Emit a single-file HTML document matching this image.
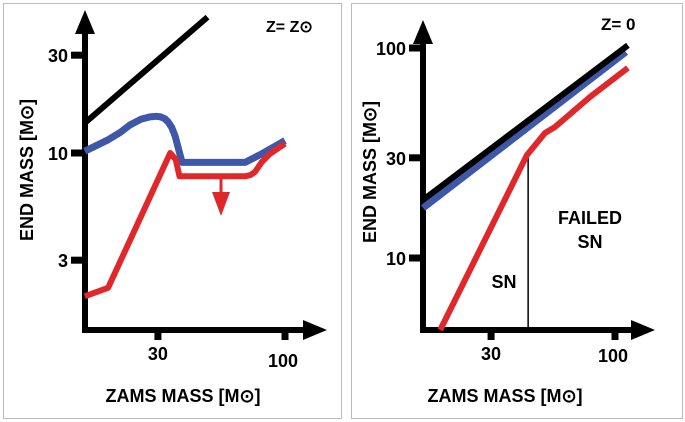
<!DOCTYPE html>
<html><head><meta charset="utf-8"><style>
html,body{margin:0;padding:0;background:#fff}
svg{display:block;font-family:"Liberation Sans",sans-serif;font-weight:bold}
</style></head><body>
<svg id="c" width="685" height="422" viewBox="0 0 685 422">
<rect x="3.5" y="3.5" width="338" height="415" fill="#fff" stroke="#bbb"/>
<rect x="351.5" y="3.5" width="331" height="415" fill="#fff" stroke="#bbb"/>
<g id="L"></g>
<g id="R"></g>
</svg>
<script>
// Left panel (Z = Zsun)
const leftBlackX=[15,48];const leftBlackY=[14,46];
const leftBlueX=[15,18.7,21,23,25.5,27.8,29.5,30.8,32,33,34.2,35.3,36.6,37.7,68.5,78.9,100];
const leftBlueY=[10.2,11.6,12.6,13.7,14.6,15.0,15.1,15.0,14.7,14.2,13.3,12.1,10.3,9.0,9.0,9.8,11.5];
const leftRedX=[15,18.7,33.7,35.5,36.8,68.5,72,75.3,80,86.7,100];
const leftRedY=[2.0,2.2,10,9.3,7.7,7.7,7.8,8.1,9.0,9.9,11.1];
const leftXTicks=[30,100];const leftYTicks=[3,10,30];
// Right panel (Z = 0)
const rightBlackX=[15.5,113.4];const rightBlackY=[18.9,103];
const rightBlueX=[15.5,111.2];const rightBlueY=[17.3,95.7];
const rightRedX=[18.3,42.5,50.7,55.9,78.5,113.4];
const rightRedY=[4.54,30.9,39.4,42.1,58.5,80.4];
const rightXTicks=[30,100];const rightYTicks=[10,30,100];
const snBoundary=43;

const NS="http://www.w3.org/2000/svg";
function mk(p,t,a){const e=document.createElementNS(NS,t);for(const k in a)e.setAttribute(k,a[k]);p.appendChild(e);return e;}
function panel(g,o){
  const sx=v=>o.x100-o.xd*(2-Math.log10(v));
  const sy=v=>o.yref-o.yd*(Math.log10(v)-Math.log10(o.yrefv));
  const line=(xs,ys,col,w,name)=>{
    const pts=xs.map((x,i)=>sx(x).toFixed(1)+","+sy(ys[i]).toFixed(1)).join(" ");
    const el=mk(g,"polyline",{points:pts,fill:"none",stroke:col,"stroke-width":w,"stroke-linejoin":"round"});
    
    
  };
  const ay=mk(g,"line",{x1:o.ax,y1:o.ay+3,x2:o.ax,y2:o.ytop+20,stroke:"#000","stroke-width":6});
  
  
  const ah=mk(g,"polygon",{points:`${o.ax-10},${o.ytop+24} ${o.ax+10},${o.ytop+24} ${o.ax},${o.ytop}`,fill:"#000"});
  
  
  const ax=mk(g,"line",{x1:o.ax-3,y1:o.ay,x2:o.xend-20,y2:o.ay,stroke:"#000","stroke-width":6});
  
  
  const ah2=mk(g,"polygon",{points:`${o.xend-24},${o.ay-10} ${o.xend-24},${o.ay+10} ${o.xend},${o.ay}`,fill:"#000"});
  
  
  o.xt.forEach(v=>{
    const t=mk(g,"rect",{x:sx(v)-3.5,y:o.ay,width:7,height:10,fill:"#000"});
    
    
    const l=mk(g,"text",{x:sx(v)+(v==100?-2:0),y:o.ay+(v==100?o.l100:30),"text-anchor":"middle","font-size":18});
    l.textContent=v;
    
    
  });
  o.yt.forEach(v=>{
    const t=mk(g,"rect",{x:o.ax-14,y:sy(v)-3.5,width:14,height:7,fill:"#000"});
    
    
    const l=mk(g,"text",{x:o.ax-17,y:sy(v)+7,"text-anchor":"end","font-size":18});
    l.textContent=v;
    
    
  });
  const yt=mk(g,"text",{x:0,y:0,transform:`translate(${o.ytx},${o.yty}) rotate(-90)`,"text-anchor":"middle","font-size":18});
  yt.textContent="END MASS [M⊙]";
  
  
  const xt=mk(g,"text",{x:o.xtx,y:402,"text-anchor":"middle","font-size":18});
  xt.textContent="ZAMS MASS [M⊙]";
  
  
  return {sx,sy,line};
}
const L=panel(document.getElementById("L"),{x100:285,xd:243,yref:153,yrefv:10,yd:205,ax:85,ay:330,ytop:10,xend:327,xt:leftXTicks,yt:leftYTicks,ytx:33,yty:170,xtx:183,l100:37});
L.line(leftBlackX,leftBlackY,"#000",6,"left-black-line");
L.line(leftBlueX,leftBlueY,"#3f57a8",7,"left-blue-line");
L.line(leftRedX,leftRedY,"#e0282b",6,"left-red-line");
const gL=document.getElementById("L");
const st=mk(gL,"line",{x1:221,y1:176,x2:221,y2:194,stroke:"#e0282b","stroke-width":3});


const tri=mk(gL,"polygon",{points:"212,192 230,192 221,216",fill:"#e0282b"});


const zl=mk(gL,"text",{x:266,y:32,"text-anchor":"start","font-size":16});
zl.textContent="Z= Z⊙";



const R=panel(document.getElementById("R"),{x100:615,xd:237,yref:258,yrefv:10,yd:210,ax:423,ay:330,ytop:20,xend:655,xt:rightXTicks,yt:rightYTicks,ytx:376,yty:172,xtx:505,l100:32});
const gR=document.getElementById("R");
const vl=mk(gR,"line",{x1:R.sx(snBoundary),y1:R.sy(30.9),x2:R.sx(snBoundary),y2:330,stroke:"#000","stroke-width":1.5});


R.line(rightBlueX,rightBlueY,"#3f57a8",7,"right-blue-line");
R.line(rightBlackX,rightBlackY,"#000",6,"right-black-line");
R.line(rightRedX,rightRedY,"#e0282b",6,"right-red-line");
const texts=[["Z= 0",601,30,"start",17,"metallicity-label-right"],["SN",504,288,"middle",18,"sn-label"],["FAILED",590,224,"middle",18,"failed-label"],["SN",590,248,"middle",18,"failed-sn-label"]];
texts.forEach(t=>{const e=mk(gR,"text",{x:t[1],y:t[2],"text-anchor":t[3],"font-size":t[4]});e.textContent=t[0];

});
</script>
</body></html>
